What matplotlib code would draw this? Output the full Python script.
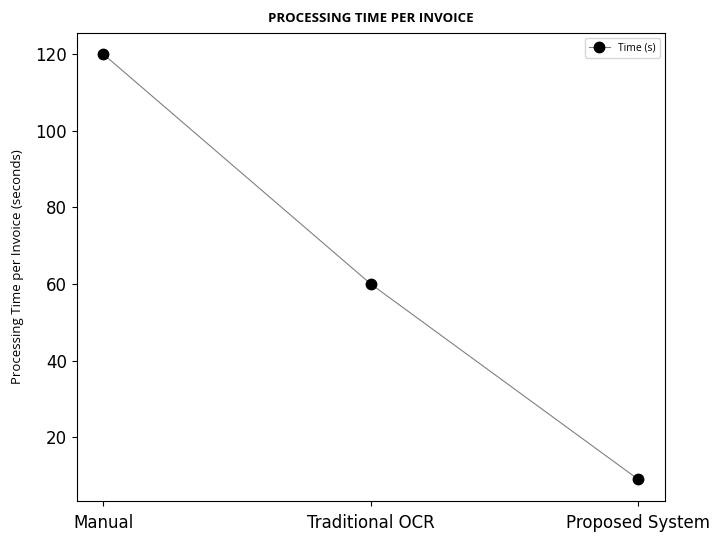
import matplotlib
matplotlib.use("Agg")
import matplotlib.pyplot as plt

# data
methods = ["Manual", "Traditional OCR", "Proposed System"]
times = [120, 60, 9]

fig = plt.figure(figsize=(7.19, 5.5), dpi=100)
ax = fig.add_axes([0.1067, 0.0896, 0.8183, 0.8504])

ax.plot(methods, times, color="gray", linewidth=0.8, marker="o",
        markersize=7.5, markerfacecolor="black", markeredgecolor="black",
        label="Time (s)")

ax.set_title("PROCESSING TIME PER INVOICE", fontsize=9.5, fontweight="bold",
             family="Open Sans", pad=8)
ax.set_ylabel("Processing Time per Invoice (seconds)", fontsize=9.5,
              family="Open Sans", labelpad=8)
ax.tick_params(labelsize=12)
ax.tick_params(axis="x", pad=6)
ax.legend(prop={"family": "Open Sans", "size": 7.5})

fig.savefig("out.png", dpi=100)
